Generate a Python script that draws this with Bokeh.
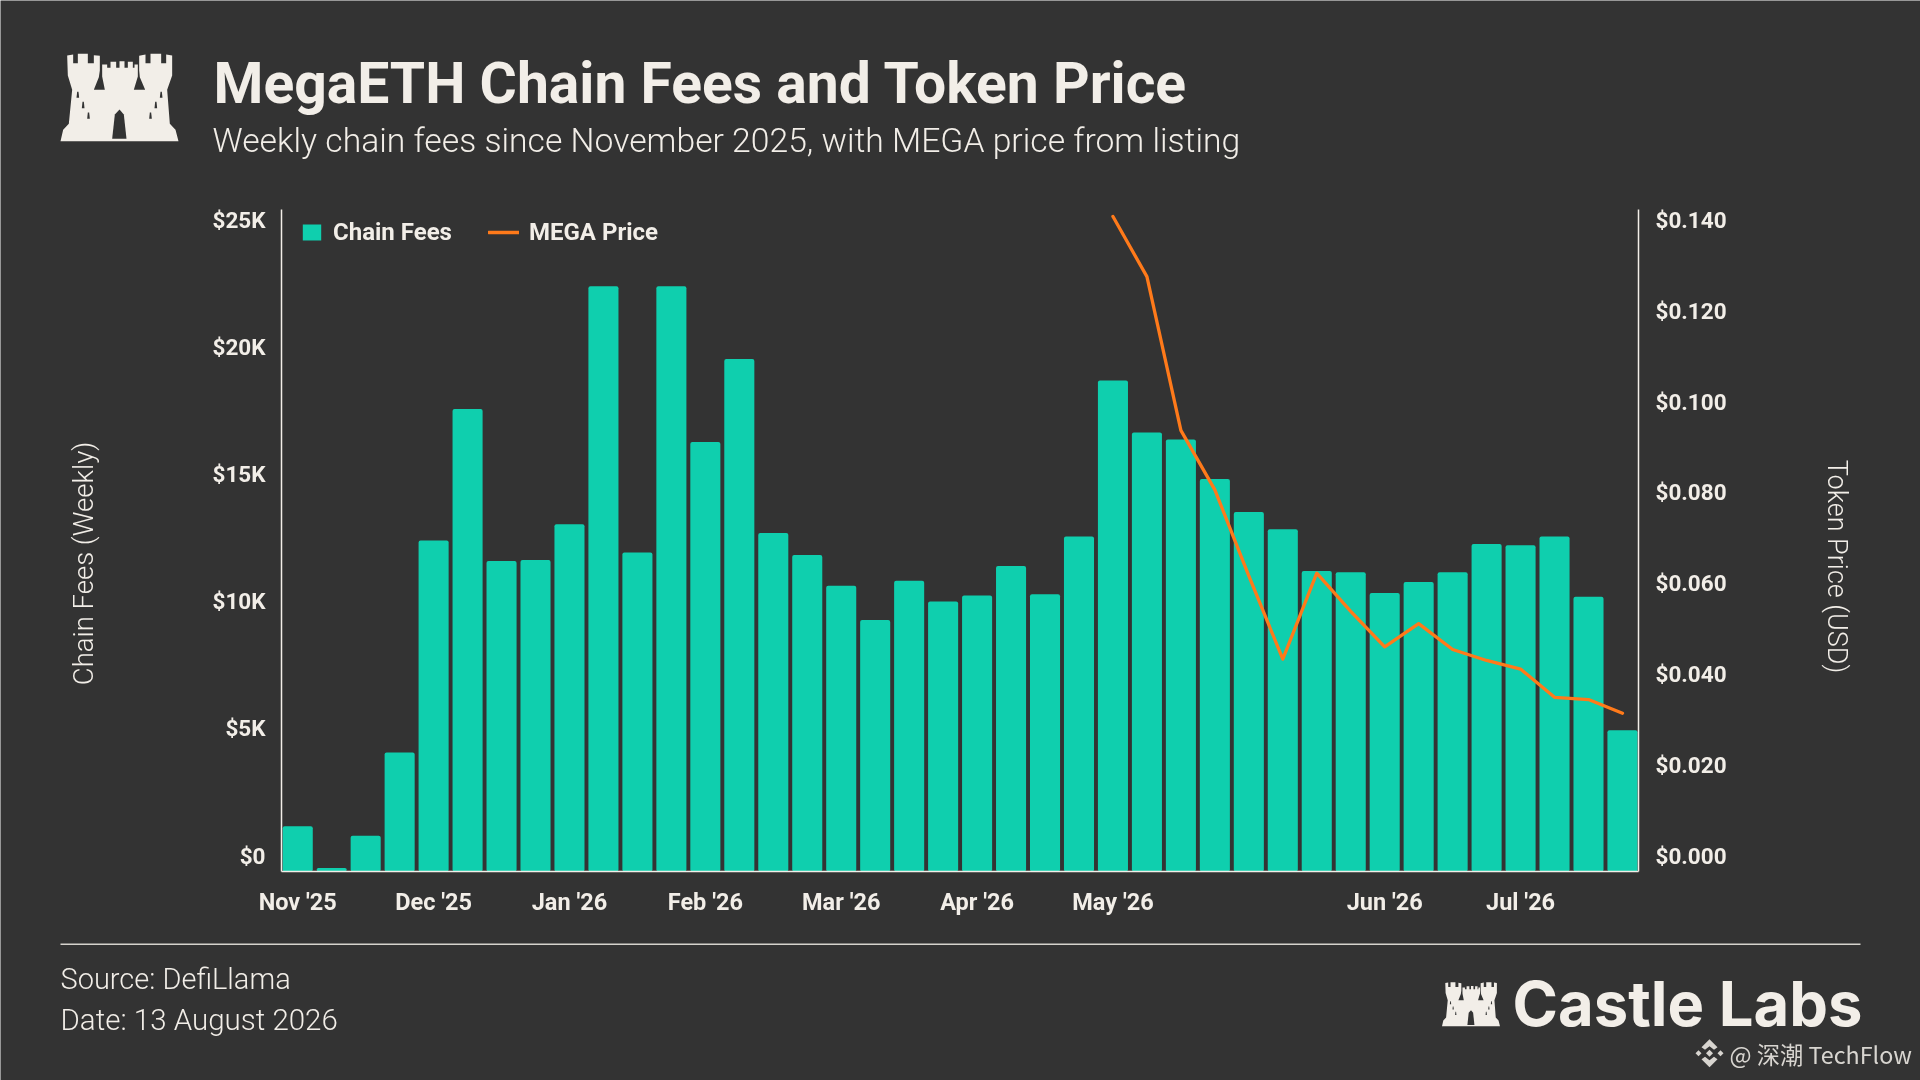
from bokeh.plotting import figure
from bokeh.models import Range1d, LinearAxis, FixedTicker, Legend, LegendItem
from bokeh.core.properties import value
from bokeh.embed import file_html
from bokeh.resources import INLINE

# ---------- data ----------
week_index = list(range(40))
chain_fees_k = [1.78, 0.14, 1.4, 4.67, 13.0, 18.16, 12.19, 12.23, 13.63, 22.98,
                12.52, 22.98, 16.86, 20.12, 13.29, 12.43, 11.22, 9.87, 11.42, 10.6,
                10.84, 11.99, 10.89, 13.15, 19.28, 17.24, 16.96, 15.41, 14.11, 13.44,
                11.8, 11.75, 10.93, 11.37, 11.75, 12.86, 12.81, 13.15, 10.79, 5.55]
price_index = list(range(24, 40))
mega_price = [0.1440, 0.1308, 0.0970, 0.0839, 0.0650, 0.0467, 0.0656, 0.0572,
              0.0494, 0.0545, 0.0488, 0.0464, 0.0445, 0.0383, 0.0378, 0.0348]
x_tick_pos = [0, 4, 8, 12, 16, 20, 24, 32, 36]
x_tick_labels = ["Nov '25", "Dec '25", "Jan '26", "Feb '26", "Mar '26", "Apr '26", "May '26", "Jun '26", "Jul '26"]
left_ticks = [0, 5, 10, 15, 20, 25]
left_labels = ["$0", "$5K", "$10K", "$15K", "$20K", "$25K"]
right_ticks = [0.0, 0.02, 0.04, 0.06, 0.08, 0.10, 0.12, 0.14]
right_labels = ["$0.000", "$0.020", "$0.040", "$0.060", "$0.080", "$0.100", "$0.120", "$0.140"]

# ---------- style ----------
BG = "#333333"
INK = "#F2EEE8"
TEAL = "#0FCFAE"
ORANGE = "#FF7A1A"
FONT = "Roboto"
LIGHT = "Roboto Light"
W, H = 1920, 1080
FL, FR, FT, FB = 281, 1638, 209, 871
px_per_k = 25.47
label_px_per_k = 25.42
shift_px = 16.0
y_max = (FB - FT) / px_per_k
price_scale = 0.14 / (25 * px_per_k)
p_max = (FB - FT) * price_scale
label_price_scale = 0.14 / (25 * label_px_per_k)
FIXED = {"position": "fixed", "left": "0px", "top": "0px"}

# ---------- backdrop figure: page furniture, in pixel coordinates ----------
bg = figure(width=W, height=H, output_backend="svg", toolbar_location=None,
            x_range=Range1d(0, W), y_range=Range1d(H, 0),
            x_axis_location=None, y_axis_location=None,
            min_border=0, background_fill_color=BG, border_fill_color=BG, outline_line_color=None)
bg.styles = FIXED
bg.grid.visible = False


def text(t, x, y, size, bold=False, font=FONT, align="left", angle=0, color=INK):
    bg.text(x=[x], y=[y], text=[t], text_font=value(font), text_font_size=f"{size}px", text_color=color,
            text_font_style="bold" if bold else "normal",
            text_align=align, text_baseline="middle", angle=angle, angle_units="deg")


text("MegaETH Chain Fees and Token Price", 213, 83, 57, bold=True)
text("Weekly chain fees since November 2025, with MEGA price from listing", 212, 140, 33.7, font=LIGHT)
text("Chain Fees (Weekly)", 83, 563, 27.5, align="center", angle=90, font=LIGHT)
text("Token Price (USD)", 1836, 566, 27, align="center", angle=-90, font=LIGHT)
text("Source: DefiLlama", 60, 978, 29, font=LIGHT)
text("Date: 13 August 2026", 60, 1019, 29.5, font=LIGHT)
text("Castle Labs", 1512, 1003, 61.5, bold=True, font="Inter")
text("@ 深潮 TechFlow", 1729, 1053, 23.3, font="Noto Sans CJK SC", color="#D8D5D0")

OUTLINE = [(30, 302), (38, 268), (55, 250), (65, 148), (52, 105), (50, 45), (68, 42), (68, 68), (82, 68), (82, 40),
           (112, 40), (112, 68), (130, 68), (130, 44), (148, 46), (148, 90), (145, 110), (130, 148), (163, 148),
           (155, 108), (155, 72), (170, 72), (170, 82), (180, 82), (180, 64), (197, 64), (197, 82), (207, 82),
           (207, 62), (222, 62), (222, 82), (232, 82), (232, 64), (247, 64), (247, 82), (252, 82), (252, 72),
           (262, 72), (262, 108), (250, 148), (284, 148), (268, 110), (266, 90), (266, 46), (285, 42), (285, 68),
           (300, 68), (300, 40), (332, 40), (332, 68), (347, 68), (347, 42), (365, 45), (365, 105), (350, 148),
           (358, 250), (375, 268), (384, 302)]
HOLES = [[(185, 295), (228, 295), (220, 222), (207, 207), (193, 222)],
         [(78, 172), (80, 154), (84, 154), (86, 172)], [(94, 203), (96, 184), (100, 184), (102, 203)],
         [(110, 235), (112, 216), (116, 216), (118, 235)], [(328, 172), (330, 154), (334, 154), (336, 172)],
         [(312, 203), (314, 184), (318, 184), (320, 203)], [(296, 235), (298, 216), (302, 216), (304, 235)]]


def poly(xs, ys, color):
    bg.patch(x=list(xs), y=list(ys), fill_color=color, line_color=None)


def castle(x0, y0, scale_x, scale_y):
    def tx(pts):
        return [x0 + (a - 30) * scale_x for a, _ in pts], [y0 + (b - 40) * scale_y for _, b in pts]
    poly(*tx(OUTLINE), INK)
    for h in HOLES:
        poly(*tx(h), BG)


castle(60, 53.3, 1 / 3, 1 / 3)
castle(1441.5, 981.7, 58.0 / 354, 44.0 / 262)

poly([60, 1860, 1860, 60], [943, 943, 944.5, 944.5], "#D6D3CD")

CHEVRON = [(0, -14), (8, -6), (4.5, -3.5), (0, -7), (-4.5, -3.5), (-8, -6)]
for pts in [CHEVRON, [(a, -b) for a, b in CHEVRON], [(-3.5, 0), (0, -3.5), (3.5, 0), (0, 3.5)],
            [(-14, 0), (-11, -3), (-8, 0), (-11, 3)], [(14, 0), (11, -3), (8, 0), (11, 3)]]:
    poly([1709 + a for a, _ in pts], [1052.7 + b for _, b in pts], "#D8D5D0")

# ---------- chart figure ----------
p = figure(width=W, height=H, output_backend="svg", toolbar_location=None,
           x_range=Range1d(-0.478, 39.472), y_range=Range1d(0, y_max),
           x_axis_location=None, y_axis_location=None,
           min_border_left=FL, min_border_right=W - FR, min_border_top=FT, min_border_bottom=H - FB,
           background_fill_alpha=0, border_fill_alpha=0, outline_line_color=None)
p.styles = FIXED
p.grid.visible = False

label_span = FB - FT
p.extra_y_ranges = {
    "left_labels": Range1d(-shift_px / label_px_per_k, (label_span - shift_px) / label_px_per_k),
    "price": Range1d(0, p_max),
    "right_labels": Range1d(-shift_px * label_price_scale, (label_span - shift_px) * label_price_scale),
}


def style_axis(ax, standoff, size=22.5):
    ax.axis_line_color = INK
    ax.axis_line_width = 1.5
    ax.major_tick_line_color = None
    ax.minor_tick_line_color = None
    ax.major_label_text_color = INK
    ax.major_label_text_font = FONT
    ax.major_label_text_font_style = "bold"
    ax.major_label_text_font_size = f"{size}px"
    ax.major_label_standoff = standoff


left = LinearAxis(y_range_name="left_labels", ticker=FixedTicker(ticks=left_ticks),
                  major_label_overrides=dict(zip(left_ticks, left_labels)))
style_axis(left, 10)
p.add_layout(left, "left")

right = LinearAxis(y_range_name="right_labels", ticker=FixedTicker(ticks=right_ticks),
                   major_label_overrides=dict(zip(right_ticks, right_labels)))
style_axis(right, 11)
p.add_layout(right, "right")

bottom = LinearAxis(ticker=FixedTicker(ticks=x_tick_pos),
                    major_label_overrides=dict(zip(x_tick_pos, x_tick_labels)))
style_axis(bottom, 10, 23.5)
p.add_layout(bottom, "below")

bars = p.vbar(x=week_index, top=chain_fees_k, bottom=0, width=0.885,
              fill_color=TEAL, line_color=None, border_radius=2)
line = p.line(x=price_index, y=mega_price, y_range_name="price",
              line_color=ORANGE, line_width=3.3, line_join="round", line_cap="round")


def legend_at(item, x, width):
    lg = Legend(items=[item], location=(x - FL, FB - 246), orientation="horizontal",
                padding=0, margin=0, spacing=0, border_line_color=None, background_fill_alpha=0,
                glyph_width=width, glyph_height=20, label_standoff=10,
                label_text_color=INK, label_text_font=FONT, label_text_font_style="bold",
                label_text_font_size="24px", label_height=20)
    p.add_layout(lg, "center")


legend_at(LegendItem(label="Chain Fees", renderers=[bars]), 300, 23)
legend_at(LegendItem(label="MEGA Price", renderers=[line]), 488, 31)

open("out.html", "w").write(file_html([bg, p], INLINE))
